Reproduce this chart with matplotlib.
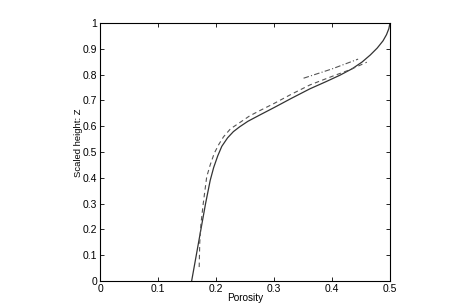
import matplotlib
matplotlib.use("Agg")
import matplotlib.pyplot as plt

plt.rcParams['font.family'] = ['Liberation Sans', 'DejaVu Sans']

# Solid curve (porosity, scaled height)
solid_phi = [0.158, 0.166, 0.174, 0.182, 0.190, 0.196, 0.203, 0.210, 0.220, 0.230, 0.241, 0.255, 0.276, 0.300, 0.330, 0.362, 0.390, 0.414, 0.435, 0.452, 0.466, 0.478, 0.488, 0.494, 0.498, 0.500]
solid_z   = [0.000, 0.100, 0.200, 0.300, 0.390, 0.440, 0.485, 0.522, 0.555, 0.579, 0.598, 0.619, 0.644, 0.672, 0.708, 0.745, 0.773, 0.798, 0.823, 0.849, 0.876, 0.903, 0.931, 0.955, 0.978, 1.000]

# Dashed curve
dash_phi = [0.171, 0.172, 0.174, 0.178, 0.184, 0.190, 0.197, 0.205, 0.213, 0.225, 0.241, 0.258, 0.276, 0.300, 0.330, 0.362, 0.400, 0.430, 0.460]
dash_z   = [0.054, 0.150, 0.220, 0.300, 0.404, 0.450, 0.495, 0.530, 0.559, 0.590, 0.614, 0.640, 0.661, 0.688, 0.724, 0.760, 0.793, 0.818, 0.848]

# Dash-dot segment
dd_phi = [0.351, 0.400, 0.445]
dd_z   = [0.786, 0.822, 0.860]

xticks = [0, 0.1, 0.2, 0.3, 0.4, 0.5]
xticklabels = ['0', '0.1', '0.2', '0.3', '0.4', '0.5']
yticks = [0, 0.1, 0.2, 0.3, 0.4, 0.5, 0.6, 0.7, 0.8, 0.9, 1.0]
yticklabels = ['0', '0.1', '0.2', '0.3', '0.4', '0.5', '0.6', '0.7', '0.8', '0.9', '1']

fig = plt.figure(figsize=(4.74, 3.07), dpi=100)
ax = fig.add_axes([100/474, 26/307, 290/474, 258/307])

ax.plot(solid_phi, solid_z, color='#333333', lw=0.9, ls='-')
ax.plot(dash_phi, dash_z, color='#555555', lw=0.8, ls=(0, (4, 3)))
ax.plot(dd_phi, dd_z, color='#555555', lw=0.8, ls=(0, (5, 2, 1, 2)))

ax.set_xlim(0, 0.5)
ax.set_ylim(0, 1)
ax.set_xticks(xticks)
ax.set_xticklabels(xticklabels)
ax.set_yticks(yticks)
ax.set_yticklabels(yticklabels)
ax.tick_params(direction='in', top=True, right=True, length=3, width=0.6, labelsize=7.5, pad=2)
for s in ax.spines.values():
    s.set_linewidth(0.8)
ax.set_xlabel('Porosity', fontsize=7.2)
ax.set_ylabel('Scaled height: Z', fontsize=6.8)
ax.xaxis.set_label_coords(0.502, -0.045)
ax.yaxis.set_label_coords(-0.060, 0.537)

fig.savefig('out.png', dpi=100)
